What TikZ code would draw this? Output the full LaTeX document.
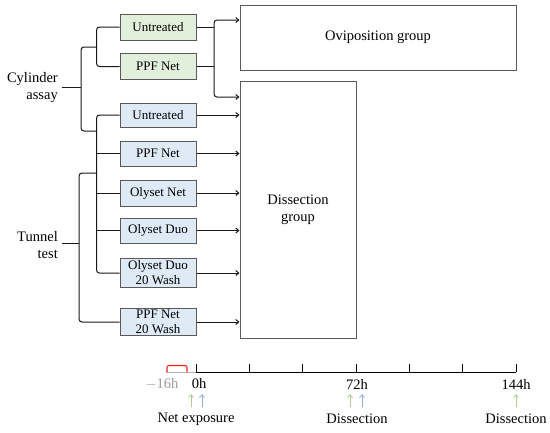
\documentclass[tikz,border=0pt]{standalone}
\usepackage{fontspec}
\setmainfont{Liberation Serif}
\usetikzlibrary{arrows.meta,calc}
\definecolor{gfill}{HTML}{E2EFDA}
\definecolor{bfill}{HTML}{DEEBF7}
\definecolor{edge}{HTML}{595959}
\definecolor{garrow}{HTML}{A9D18E}
\definecolor{barrow}{HTML}{8FAADC}
\definecolor{redbr}{HTML}{FF2020}
\tikzset{
  box/.style={draw=edge,line width=1pt,minimum width=76pt,minimum height=25pt,inner sep=2pt,align=center,font=\fontsize{13}{15}\selectfont},
  gbox/.style={box,fill=gfill},
  bbox/.style={box,fill=bfill},
  bigbox/.style={draw=edge,line width=1pt,align=center,font=\fontsize{14.5}{17}\selectfont},
  lbl/.style={font=\fontsize{14.5}{17}\selectfont,inner sep=4pt},
  br/.style={line width=1pt,draw=black!90,rounded corners=3pt},
  arr/.style={br,-{Straight Barb[length=3pt,width=5pt]}},
  tarr/.style={line width=0.8pt,-{Straight Barb[length=3pt,width=5pt]}}
}
\begin{document}
\begin{tikzpicture}[x=1pt,y=-1pt]
	\useasboundingbox(0,0)rectangle(550,432);
	% boxes
	\node[gbox,minimum height=26pt](gu)at(158,27){Untreated};
	\node[gbox,minimum height=26pt](gp)at(158,66.5){PPF Net};
	\node[bbox,minimum height=24pt](bu)at(158,115){Untreated};
	\node[bbox](bp)at(158,153.5){PPF Net};
	\node[bbox,minimum height=26pt](bo)at(158,193){Olyset Net};
	\node[bbox](bd)at(158,230.5){Olyset Duo};
	\node[bbox](bw)at(158,273){Olyset Duo\\20 Wash};
	\node[bbox](pw)at(158,322){PPF Net\\20 Wash};
	\node[bigbox,minimum width=276pt,minimum height=65pt](ovi)at(378,37.5){Oviposition group};
	\node[bigbox,minimum width=116pt,minimum height=257pt](dis)at(298,209.5){Dissection\\group};
	% left labels
	\node[lbl,align=right,anchor=east](cyl)at(62,88){Cylinder\\assay};
	\node[lbl,align=right,anchor=east](tun)at(62,245){Tunnel\\test};
	\coordinate(cj)at(81,87);
	\coordinate(tj)at(79,243);
	% brackets
	\draw[br](gu.west)--++(-23,0)|-(gp.west);
	\draw[br](97,47)-|(cj)|-(97,131);
	\draw[br](cyl.east|-cj)--(cj);
	\draw[br](bu.west)--++(-23,0)|-(bw.west);
	\foreach \n in {bp,bo,bd}{\draw[br](\n.west)--++(-23,0);}
	\draw[br](97,173)-|(tj)|-(pw.west);
	\draw[br](tun.east|-tj)--(tj);
	% right side
	\coordinate(gr)at(214,58);
	\draw[br](gu.east)--(gu.east-|gr);
	\draw[br](gp.east)--(gp.east-|gr);
	\draw[arr](gr)|-(ovi.west|-0,20);
	\draw[arr](gr)|-(dis.west|-0,97);
	\foreach \n in {bu,bp,bo,bd,bw,pw}{\draw[arr](\n.east)--(\n.east-|dis.west);}
	% timeline
	\coordinate(t0)at(196,372);
	\coordinate(t144)at(516,372);
	\draw[line width=1pt,gray!60](166,372)--(t0);
	\draw[line width=1.1pt,redbr,rounded corners=2pt](167,372)--(167,365.5)--(187,365.5)--(187,372);
	\draw[line width=1pt](t0)--(t144);
	\foreach \i in {0,...,6}{\draw[line width=1pt]($(t0)+(\i*53.333,0)$)--++(0,-8);}
	\node[lbl,text=gray!80](m16)at(162,384){$-$16h};
	\node[lbl](h0)at(199,384){0h};
	\node[lbl](h72)at(357,384){72h};
	\node[lbl](h144)at(516,384){144h};
	\draw[tarr,garrow](191,407)--(191,394);
	\draw[tarr,barrow](202,407)--(202,394);
	\draw[tarr,garrow](350,407)--(350,394);
	\draw[tarr,barrow](362,407)--(362,394);
	\draw[tarr,garrow](516,407)--(516,394);
	\node[lbl](ne)at(196,419){Net exposure};
	\node[lbl](d72)at(357,419){Dissection};
	\node[lbl](d144)at(516,419){Dissection};
\end{tikzpicture}
\end{document}
